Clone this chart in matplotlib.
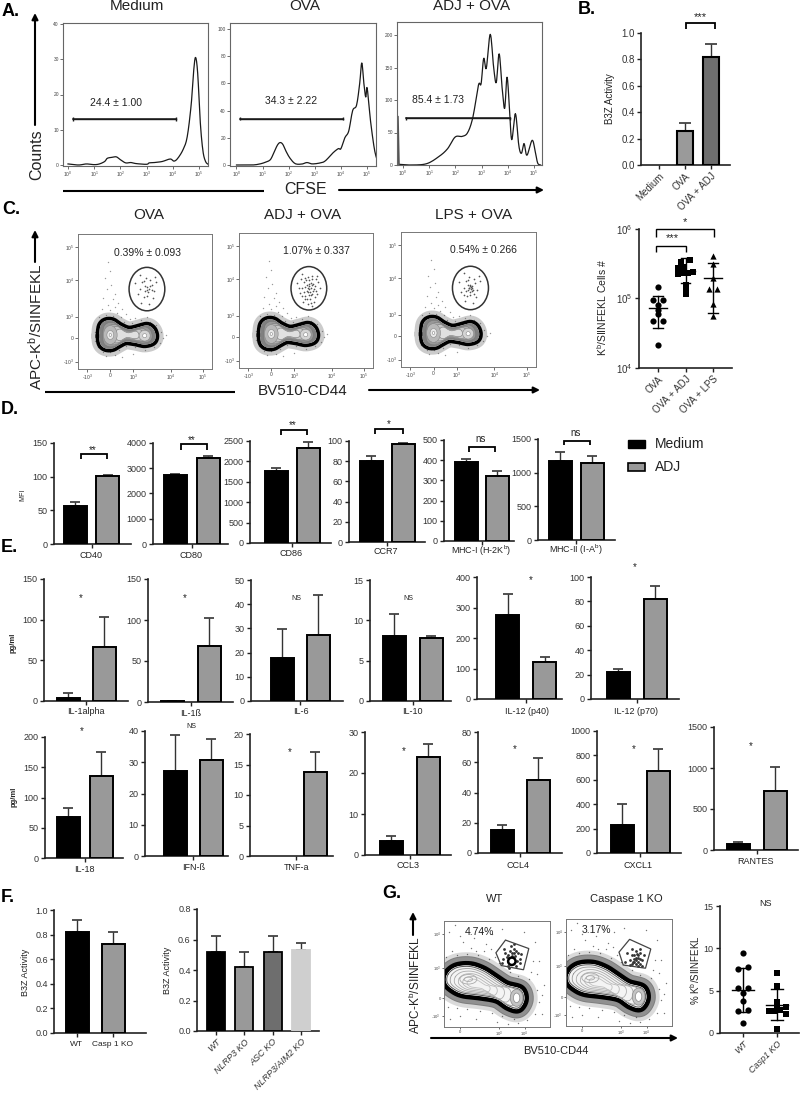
import numpy as np
import matplotlib
matplotlib.use('Agg')
import matplotlib.pyplot as plt
from matplotlib.patches import Ellipse, Polygon, Rectangle

plt.rcParams['font.family'] = ['Liberation Sans', 'DejaVu Sans']
plt.rcParams['mathtext.default'] = 'regular'
W, H = 800, 1094
INK = '#222222'

# ---------- DATA ----------
# Panel A histograms: log10(CFSE) and counts
A_medium_x = [0,0.4,0.7,1,1.2,1.4,1.5,1.7,1.85,2.0,2.2,2.4,2.6,3,3.1,3.3,3.6,3.9,4.05,4.2,4.4,4.55,4.7,4.8,4.87,4.95,5.05,5.15,5.25,5.35]
A_medium_y = [0.3,0,0.3,0.1,0.3,1,1.9,2.2,2.3,1.5,0.6,0.7,0.4,0.2,0.6,0.7,1.0,1.7,1.1,2,4.5,8,17,27,30.5,26,12,4,1,0.2]
A_ova_x = [0,0.6,0.9,1.1,1.3,1.45,1.58,1.68,1.78,1.9,2.05,2.25,2.5,2.7,2.9,3.2,3.4,3.7,3.9,4.0,4.15,4.3,4.45,4.6,4.72,4.8,4.88,4.95,5.0,5.07,5.15,5.3,5.45,5.55]
A_ova_y = [0,0,0.8,2,4,10,15,16.5,15,10,5,1,0.7,1.8,0.8,1.5,3,9,12,12,20,25,40,44,60,75,60,50,57,45,30,10,1,0]
A_adj_x = [-0.14,0.3,0.9,1.37,1.7,1.99,2.26,2.47,2.67,2.88,2.98,3.08,3.18,3.33,3.46,3.56,3.67,3.78,3.88,3.97,4.06,4.15,4.29,4.42,4.52,4.62,4.73,4.93,5.05,5.14,5.25]
A_adj_y = [1,0,2,13,25,43,44,50,74,123,125,164,149,201,150,127,171,120,87,135,90,39,79,30,18,33,15,38,20,3,0]
A_adj_spike_x = [-0.18,-0.18,-0.14]
A_adj_spike_y = [0,75,1]
A_titles = ['Medium', 'OVA', 'ADJ + OVA']
A_notes = ['24.4 ± 1.00', '34.3 ± 2.22', '85.4 ± 1.73']
A_gates = [(0.18, 4.12, 13), (0.14, 4.08, 34), (0.13, 4.07, 72)]

# Panel B
B_cats = ['Medium', 'OVA', 'OVA + ADJ']
B_vals = [0, 0.26, 0.82]
B_errs = [0, 0.055, 0.10]

# Cell numbers
K_cats = ['OVA', 'OVA + ADJ', 'OVA + LPS']
K_ova = [1.44e5,0.957e5,0.957e5,0.80e5,0.68e5,0.594e5,0.476e5,0.476e5,0.212e5]
K_adj = [3.3e5,3.57e5,2.77e5,2.86e5,2.24e5,2.29e5,2.34e5,2.42e5,1.56e5,1.35e5,1.18e5]
K_lps = [4.07e5,3.13e5,2.0e5,1.39e5,1.39e5,0.83e5,0.556e5]
K_stats = [(0.725e5,1.08e5,0.373e5),(2.5e5,3.77e5,1.68e5),(1.94e5,3.2e5,0.62e5)]

# Panel C
C_titles = ['OVA', 'ADJ + OVA', 'LPS + OVA']
C_notes = ['0.39% ± 0.093', '1.07% ± 0.337', '0.54% ± 0.266']
C_outline = [(-0.45,0.1),(-0.4,0.55),(-0.2,0.75),(0.1,0.75),(0.4,0.55),(0.8,0.38),(1.2,0.45),(1.6,0.55),(1.85,0.4),(1.95,0.1),(1.85,-0.15),(1.5,-0.25),(1.1,-0.17),(0.7,-0.12),(0.4,-0.25),(0.1,-0.42),(-0.2,-0.42),(-0.4,-0.25)]
C_gate_centers = [(1.6,2.2),(1.64,2.19),(1.6,2.16)]
C_gate_ova = [(1.6,2.3),(1.7,2.2),(1.5,2.1),(1.8,2.4),(1.4,2.5),(1.3,2.2),(1.9,2.1),(1.6,1.9),(1.75,2.6),(1.45,1.85),(1.2,2.0),(2.0,2.5),(1.55,2.7),(1.85,1.8),(1.35,1.6),(1.65,2.05),(1.72,2.35),(1.5,2.35),(1.62,2.15),(1.1,2.45),(1.95,2.75),(1.3,2.85),(1.7,1.55),(1.48,2.55),(1.82,2.18)]
C_gate_adj = [(1.6,2.3),(1.7,2.2),(1.5,2.1),(1.8,2.4),(1.4,2.5),(1.3,2.2),(1.9,2.1),(1.6,1.9),(1.75,2.6),(1.45,1.85),(1.2,2.0),(2.0,2.5),(1.55,2.7),(1.85,1.8),(1.35,1.6),(1.65,2.05),(1.72,2.35),(1.5,2.35),(1.62,2.15),(1.1,2.45),(1.95,2.75),(1.3,2.85),(1.7,1.55),(1.48,2.55),(1.82,2.18),(1.68,2.45),(1.58,2.02),(1.78,2.08),(1.42,2.28),(1.88,2.32),(1.28,1.85),(1.52,1.72),(1.95,1.95),(1.65,1.72),(1.82,1.58),(1.38,2.05),(1.75,2.75),(1.6,2.58),(1.45,2.68),(1.55,1.5),(1.72,1.4),(1.9,2.6),(1.25,2.6),(1.68,1.88),(1.55,2.22),(1.75,1.95),(1.42,1.72),(2.1,2.2),(1.15,2.2),(1.62,2.4)]
C_gate_lps = [(1.6,2.3),(1.65,2.2),(1.5,2.1),(1.8,2.4),(1.4,2.5),(1.3,2.2),(1.9,2.1),(1.6,1.9),(1.75,2.6),(1.45,1.85),(1.2,2.0),(2.0,2.5),(1.55,2.7),(1.85,1.8),(1.35,1.6),(1.65,2.05),(1.58,2.35),(1.5,2.35),(1.62,2.15),(1.1,2.45),(1.95,2.75),(1.3,2.85),(1.7,1.55),(1.48,2.55),(1.55,2.18),(1.68,2.28),(1.58,2.02),(1.62,2.25),(1.52,2.22),(1.7,2.1),(1.42,2.08),(1.75,1.95),(1.3,1.9)]
C_plume = [(-0.1,3.4),(0.0,3.0),(-0.25,2.7),(0.05,2.4),(-0.15,2.2),(0.2,2.0),(-0.3,1.8),(0.1,1.75),(0.35,1.6),(-0.1,1.5),(0.2,1.4),(0.5,1.3),(-0.35,1.3),(0.0,1.25),(0.3,1.15),(0.7,1.1),(-0.2,1.05),(0.1,1.0),(0.45,0.95),(0.85,0.85),(1.1,0.9),(1.35,0.8),(1.6,0.95),(-0.5,0.95),(-0.4,0.85),(0.25,0.85),(0.6,0.75),(0.95,0.7),(1.3,0.7),(1.75,0.75),(2.0,0.6),(2.2,0.3),(2.3,0.0),(2.15,-0.2),(1.9,-0.4),(1.5,-0.5),(1.1,-0.4),(0.7,-0.35),(0.4,-0.5),(0.0,-0.6),(-0.3,-0.6),(-0.55,-0.4),(-0.65,-0.1),(-0.65,0.3),(-0.55,0.7),(-0.2,-0.8),(0.2,-0.75),(1.0,-0.7),(0.5,-0.85),(2.45,0.15)]

# Panel D
D_labels = ['CD40','CD80','CD86','CCR7','MHC-I (H-2K$^{b}$)','MHC-II (I-A$^{b}$)']
D_medium = [57,2740,1760,80,392,1180]
D_medium_err = [6,30,90,5.5,15,120]
D_adj = [101,3390,2340,97,320,1150]
D_adj_err = [2,100,130,1,25,100]
D_ticks = [[0,50,100,150],[0,1000,2000,3000,4000],[0,500,1000,1500,2000,2500],[0,20,40,60,80,100],[0,100,200,300,400,500],[0,500,1000,1500]]
D_sig = ['**','**','**','*','ns','ns']

# Panel E
E1_labels = ['IL-1alpha','IL-1ß','IL-6','IL-10','IL-12 (p40)','IL-12 (p70)']
E1_medium = [4,1,17.7,8.1,275,22]
E1_medium_err = [6,0.5,12,2.7,68,3]
E1_adj = [67,68,27.2,7.8,120,82]
E1_adj_err = [36,34,16.5,0.2,18,11]
E1_ticks = [[0,50,100,150],[0,50,100,150],[0,10,20,30,40,50],[0,5,10,15],[0,100,200,300,400],[0,20,40,60,80,100]]
E1_sig = ['*','*','NS','NS','*','*']
E2_labels = ['IL-18','IFN-ß','TNF-a','CCL3','CCL4','CXCL1','RANTES']
E2_medium = [68,27.2,0,3.3,15,233,78]
E2_medium_err = [15,11.4,0,1.4,3.5,165,18]
E2_adj = [136,30.8,13.7,24,48,675,725]
E2_adj_err = [39,6.7,3.4,3,15,175,285]
E2_ticks = [[0,50,100,150,200],[0,10,20,30,40],[0,5,10,15,20],[0,10,20,30],[0,20,40,60,80],[0,200,400,600,800,1000],[0,500,1000,1500]]
E2_sig = ['*','NS','*','*','*','*','*']

# Panel F
F1_labels = ['WT','Casp 1 KO']
F1_vals = [0.82,0.72]
F1_errs = [0.10,0.10]
F2_labels = ['WT','NLRP3 KO','ASC KO','NLRP3/AIM2 KO']
F2_vals = [0.52,0.42,0.52,0.53]
F2_errs = [0.10,0.10,0.10,0.045]

# Panel G
G_titles = ['WT','Caspase 1 KO']
G_notes = ['4.74%','3.17%']
G_outline = [(4,50),(12,56),(25,57),(37,53),(48,46),(59,39),(72,35),(75,26),(70,18),(61,20),(50,27),(34,30),(18,32),(9,36),(3,42)]
G_gate_wt = [(49,70),(58,82),(80,74),(75,54),(54,58)]
G_gate_ko = [(50,69),(60,81),(80,72),(75,54),(54,57)]
G_fuzz = [(2,66),(12,68),(22,69),(32,68),(42,64),(52,60),(62,52),(70,48),(80,45),(88,35),(90,24),(86,12),(78,7),(66,8),(55,10),(45,13),(34,15),(22,17),(12,18),(4,19),(8,72),(25,75),(38,72),(48,66),(88,50),(92,30),(70,4),(50,5),(30,8),(15,10),(40,78),(28,84),(15,86),(5,90),(35,90),(90,62),(86,80),(94,40),(45,88),(6,8),(60,3),(92,12),(10,96),(55,92),(75,90),(18,80),(30,72),(44,74),(82,52),(84,62)]
G_gate_dots_wt = [(58,70),(62,72),(66,74),(70,70),(72,64),(68,58),(60,58),(56,64),(64,67),(67,67),(60,62),(57,74),(66,70),(73,69),(63,76),(69,62),(61,56),(55,60),(64,70),(68,72),(60,68),(72,60),(66,78),(59,66)]
G_gate_dots_ko = [(62,66),(66,64),(70,68),(64,60),(68,60),(72,62),(60,62),(66,70),(74,66),(62,72),(70,72),(56,60),(68,56),(62,58),(66,58),(70,58),(64,66),(68,66),(58,68),(72,56),(66,62),(68,64),(64,63),(63,60),(67,67),(60,57),(70,63)]

G_wt = [9.5,7.6,7.8,5.3,5.3,4.7,3.8,2.6,2.7,1.2]
G_ko = [7.1,5.6,3.7,3.1,3.0,2.6,2.6,2.7,2.2,0.5]
G_stats = [(5.1,7.7,2.5),(3.3,5.2,1.5)]
G_cats = ['WT','Casp1 KO']

# ---------- LAYOUT ----------
A_boxes = [(63,23,208,166,68,199,165,24,40),(230,23,376,166,236.5,367,165,29,100),(397,22,542,165,403,534,165,35,200)]
A_title_x = [137,305,472]
A_note_xy = [(116,103),(291,101),(438,100)]
C_boxes = [(78,234,212,369),(239,233,373,368),(401,232,536,367)]
C_title_x = [149,303,474]
C_note_xy = [(147,253),(316,251),(483,250)]
D_boxes = [(54,443,131,544,75.4,107.7),(153,443,228,544,175,208),(250,441,331,543,276,308),(349,441,425,542,371,403),(444,440,514,541,466,497),(538,439,615,540,560,592)]
D_label_xy = [(91,555),(191,555),(291,553),(386,552),(481,551),(576,550)]
D_brackets = [(80.5,106.7,454,459,93,450),(180.5,206.7,444,450,192,440),(281,306.7,430,435,293,425),(375.4,402.6,429,434,389,424),(468.7,495.4,447,452,481,439),(564,590,441,445,575.4,433)]
E1_boxes = [(44,579,128,701,68,104),(148,579,233,702,172,209),(251,580,343,701,282,318),(370,580,451,701,394,431),(477,577,562,699,508,545),(591,577,679,699,618,655)]
E1_label_xy = [(86,712),(191,713),(301,712),(412,712),(527,711),(636,711)]
E1_sig_xy = [(80.5,598),(184.6,598),(296.4,598),(408.7,598),(530.8,580),(635,567)]
E2_boxes = [(45,737,123,858,68,101),(145,731,228,856,175,211),(250,734,333,856,277,315),(365,732,451,855,391,428),(478,732,562,853,502,538),(597,731,681,853,622,658),(714,727,798,850,738,775)]
E2_label_xy = [(84,869),(194,868),(296,868),(408,865),(518,865),(638,865),(756,862)]
E2_sig_xy = [(82,731),(191,726),(290,752),(403.6,751),(515,749),(634,749),(751,746)]
C_ticks_x = [-1, 0, 1, 2.64, 4.05]
C_ticks_y = [-1.04, 0, 0.97, 2.61, 4.06]
C_tick_text = ['-10$^{3}$', '0', '10$^{3}$', '10$^{4}$', '10$^{5}$']

fig = plt.figure(figsize=(W/100, H/100), dpi=100, facecolor='white')

def box_ax(l, t, r, b):
    return fig.add_axes([l/W, 1-b/H, (r-l)/W, (b-t)/H])

ov = fig.add_axes([0, 0, 1, 1], zorder=20)
ov.set_xlim(0, W); ov.set_ylim(H, 0); ov.axis('off'); ov.patch.set_alpha(0)

def T(x, y, s, size=7, **k):
    k.setdefault('ha', 'center'); k.setdefault('va', 'center'); k.setdefault('color', INK)
    ov.text(x, y, s, fontsize=size, **k)

def arrow(x0, y0, x1, y1):
    ov.annotate('', xy=(x1, y1), xytext=(x0, y0),
                arrowprops=dict(arrowstyle='-|>', lw=1.5, color='k', mutation_scale=9, shrinkA=0, shrinkB=0))

def line(xs, ys, lw=1.2, color='k'):
    ov.plot(xs, ys, color=color, lw=lw, solid_capstyle='butt', solid_joinstyle='miter')

def bracket(x0, x1, ytop, ybot, lw=1.3):
    line([x0, x0, x1, x1], [ybot, ytop, ytop, ybot], lw)

def closed_spline(pts, n=12):
    p = np.array(pts, float)
    out = []
    m = len(p)
    for i in range(m):
        a, b, c, d = p[(i-1) % m], p[i], p[(i+1) % m], p[(i+2) % m]
        for t in np.linspace(0, 1, n, endpoint=False):
            out.append(0.5*((2*b)+(-a+c)*t+(2*a-5*b+4*c-d)*t*t+(-a+3*b-3*c+d)*t**3))
    out.append(out[0])
    return np.array(out)

def open_spline(xs, ys, n=8):
    p = np.column_stack([xs, ys]).astype(float)
    p = np.vstack([p[0], p, p[-1]])
    out = []
    for i in range(1, len(p)-2):
        a, b, c, d = p[i-1], p[i], p[i+1], p[i+2]
        for t in np.linspace(0, 1, n, endpoint=False):
            out.append(0.5*((2*b)+(-a+c)*t+(2*a-5*b+4*c-d)*t*t+(-a+3*b-3*c+d)*t**3))
    out.append(p[-1])
    out = np.array(out)
    out[:, 1] = np.maximum(out[:, 1], 0)
    return out

def offset_curve(curve, d):
    """Shift a closed curve outward by d, along its normal."""
    c = curve[:-1]
    tan = np.roll(c, -1, axis=0) - np.roll(c, 1, axis=0)
    tan /= np.maximum(np.hypot(*tan.T), 1e-9)[:, None]
    nrm = np.column_stack([tan[:, 1], -tan[:, 0]])
    mid = c.mean(axis=0)
    sign = np.sign(((c-mid)*nrm).sum(axis=1).sum()) or 1
    o = c + sign*d*nrm
    return np.vstack([o, o[0]])

def style_prism(ax, lw=1.2, size=6.5):
    for s in ('top', 'right'):
        ax.spines[s].set_visible(False)
    for s in ('left', 'bottom'):
        ax.spines[s].set_linewidth(lw); ax.spines[s].set_color(INK)
    ax.tick_params(axis='both', length=3, width=1, color=INK, labelsize=size, labelcolor='#333333', pad=1.5)

def bar_panel(box, vals, errs, ticks, colors, width_px=23, size=6.5, edges=None):
    l, t, r, b = box[:4]
    pos = box[4:]
    unit = pos[1] - pos[0]
    ax = box_ax(l, t, r, b)
    ax.set_xlim((l-pos[0])/unit, (r-pos[0])/unit)
    ax.set_ylim(0, ticks[-1])
    x = np.arange(len(vals))
    for i in x:
        ec = 'black' if edges is None else edges[i]
        if vals[i] > 0:
            ax.bar(i, vals[i], width_px/unit, color=colors[i], edgecolor=ec, linewidth=1.4, zorder=3)
            ax.errorbar(i, vals[i], yerr=[[0], [errs[i]]], color='#333333', capsize=3.5,
                        elinewidth=1.0, capthick=1.2, zorder=2, clip_on=False)
    ax.set_yticks(ticks)
    ax.set_yticklabels([str(v) for v in ticks])
    style_prism(ax, size=size)
    return ax

# ---- Panel letters
for x, y, s in [(2, 12, 'A.'), (578, 10, 'B.'), (2, 210, 'C.'), (1, 410, 'D.'), (1, 547, 'E.'), (1, 897, 'F.'), (382, 893, 'G.')]:
    T(x, y, s, 13, ha='left', fontweight='bold', color='k')

# ---- Panel A
A_x = [A_medium_x, A_ova_x, A_adj_x]
A_y = [A_medium_y, A_ova_y, A_adj_y]
for i, bx in enumerate(A_boxes):
    l, t, r, b, x0, x5, y0, ym, ymax = bx
    ax = box_ax(l, t, r, b)
    ux = (x5-x0)/5
    uy = (y0-ym)/ymax
    ax.set_xlim((l-x0)/ux, (r-x0)/ux)
    ax.set_ylim((y0-b)/uy, (y0-t)/uy)
    curve = open_spline(A_x[i], A_y[i])
    ax.plot(curve[:, 0], curve[:, 1], color='#1a1a1a', lw=0.9, solid_joinstyle='round')
    if i == 2:
        ax.plot(A_adj_spike_x, A_adj_spike_y, color='#555555', lw=0.7)
    g0, g1, gy = A_gates[i]
    ax.errorbar([g0, g1], [gy, gy], yerr=ymax*0.012, color='#1a1a1a', lw=1.0, capsize=0, elinewidth=1)
    ax.plot([g0, g1], [gy, gy], color='#1a1a1a', lw=1.1)
    ax.set_xticks(range(6))
    ax.set_xticklabels(['10$^{%d}$' % n for n in range(6)])
    yt = {40: [0,10,20,30,40], 100: [0,20,40,60,80,100], 200: [0,50,100,150,200]}[ymax]
    ax.set_yticks(yt)
    ax.tick_params(labelsize=3.5, length=2, width=0.5, pad=1, color='#333333', labelcolor='#444444')
    for s in ax.spines.values():
        s.set_linewidth(0.8); s.set_color('#666666')
    T(A_title_x[i], 6, A_titles[i], 11)
    T(A_note_xy[i][0], A_note_xy[i][1], A_notes[i], 7.5)
T(37, 155, 'Counts', 11.5, rotation=90)
arrow(35, 125, 35, 13)
T(306, 190, 'CFSE', 11.5)
line([63, 264], [191, 191], 1.5)
arrow(339, 190, 544, 190)

# ---- Panel B
ax = box_ax(641, 33, 730, 165)
ax.set_xlim(-0.69, 2.73); ax.set_ylim(0, 1)
B_colors = ['white', '#9a9a9a', '#6e6e6e']
for i in range(3):
    if B_vals[i] > 0:
        ax.bar(i, B_vals[i], 0.62, color=B_colors[i], edgecolor='black', linewidth=1.5, zorder=3)
        ax.errorbar(i, B_vals[i], yerr=[[0], [B_errs[i]]], color='#333333', capsize=4.5, elinewidth=1, capthick=1.2, zorder=2)
ax.set_xticks(range(3)); ax.set_xticklabels(B_cats, rotation=45, ha='right', rotation_mode='anchor')
ax.set_yticks([0, .2, .4, .6, .8, 1]); ax.set_yticklabels(['0.0', '0.2', '0.4', '0.6', '0.8', '1.0'])
style_prism(ax, size=7)
T(610, 99, 'B3Z Activity', 7, rotation=90)
bracket(686, 715, 23, 29)
T(700, 17, '***', 8)

# ---- Cell-number scatter
ax = box_ax(639, 229, 732, 368)
ax.set_yscale('log'); ax.set_ylim(1e4, 1e6)
ax.set_xlim((639-658)/27.5, (732-658)/27.5)
K_ova_dx = [0,-.17,.17,0,0,0,-.17,.17,0]
K_adj_dx = [-.16,.17,-.28,-.1,-.28,-.12,.08,.26,0,0,0]
K_lps_dx = [0,0,0,-.16,.16,0,0]
K_sets = [K_ova, K_adj, K_lps]
K_dx = [K_ova_dx, K_adj_dx, K_lps_dx]
for i, mk in enumerate(['o', 's', '^']):
    ax.scatter(np.array(K_dx[i])+i, K_sets[i], marker=mk, s=20, color='black', zorder=3, linewidths=0)
    m, hi, lo = K_stats[i]
    ax.plot([i-.34, i+.34], [m, m], color='k', lw=1)
    ax.plot([i, i], [lo, hi], color='k', lw=1)
    for v in (lo, hi):
        ax.plot([i-.18, i+.18], [v, v], color='k', lw=1)
ax.set_xticks(range(3)); ax.set_xticklabels(K_cats, rotation=45, ha='right', rotation_mode='anchor')
ax.set_yticks([1e4, 1e5, 1e6]); ax.set_yticklabels(['10$^{4}$', '10$^{5}$', '10$^{6}$'])
ax.minorticks_off()
style_prism(ax, size=7)
T(602, 308, 'K$^{b}$/SIINFEKL Cells #', 7.5, rotation=90)
bracket(656, 686, 246, 252, 1.0)
T(672, 238, '***', 8)
bracket(656, 714, 229, 237, 1.0)
T(685, 222, '*', 8)

# ---- Panel C
C_gates = [C_gate_ova, C_gate_adj, C_gate_lps]
for i, (l, t, r, b) in enumerate(C_boxes):
    ax = box_ax(l, t, r, b)
    ax.set_xlim(-1.41, 4.44); ax.set_ylim(-1.37, 4.66)
    P = np.array(C_plume)
    ax.scatter(P[:, 0], P[:, 1], s=1.0, color='#9a9a9a', linewidths=0)
    G = np.array(C_gates[i])
    cx, cy = C_gate_centers[i]
    ax.scatter(G[:, 0]+cx-1.6, G[:, 1]+cy-2.2, s=1.5, color='#555555', linewidths=0)
    ax.add_patch(Ellipse((cx, cy), 1.56, 1.94, fill=False, ec='#333333', lw=1.1))
    base = closed_spline(C_outline)
    ctr = np.array([0.75, 0.15])
    ax.plot(*offset_curve(base, 0.27).T, color='#333333', lw=3.5, alpha=0.25)
    ax.plot(*offset_curve(base, 0.11).T, color='k', lw=2.6)
    ax.fill(*base.T, color='#808080', zorder=2)
    for s, c in [(0.9, '#989898'), (0.75, '#b0b0b0'), (0.6, '#c8c8c8'), (0.42, '#e0e0e0')]:
        ax.fill(*(ctr+(base-ctr)*s).T, color=c, ec='#777777', lw=0.4, zorder=2)
    for (lx, ly), rx, ry, fc in [((0.0, 0.15), 0.3, 0.42, '#b8b8b8'), ((0.0, 0.15), 0.15, 0.2, '#e8e8e8'), ((0.0, 0.15), 0.05, 0.07, 'white'),
                                 ((1.5, 0.12), 0.24, 0.24, '#d4d4d4'), ((1.5, 0.12), 0.09, 0.09, 'white')]:
        ax.add_patch(Ellipse((lx, ly), 2*rx, 2*ry, fc=fc, ec='#888888', lw=0.4, zorder=2))
    ax.set_xticks(C_ticks_x); ax.set_xticklabels(C_tick_text)
    ax.set_yticks(C_ticks_y); ax.set_yticklabels(C_tick_text)
    ax.tick_params(labelsize=3.5, length=2, width=0.5, pad=1, color='#333333', labelcolor='#444444')
    for s in ax.spines.values():
        s.set_linewidth(0.7); s.set_color('#777777')
    T(C_title_x[i], 215, C_titles[i], 11)
    T(C_note_xy[i][0], C_note_xy[i][1], C_notes[i], 7.5)
T(36, 327, 'APC-K$^{b}$/SIINFEKL', 11, rotation=90)
arrow(35, 262, 35, 230)
T(303, 391, 'BV510-CD44', 11)
line([45, 235], [392, 392], 1.5)
arrow(369, 390, 540, 390)

# ---- Panels D / E helper loop
black_gray = ['black', '#999999']
def group(boxes, meds, merrs, adjs, aerrs, ticks, labels, lab_xy, width=23):
    for i, bx in enumerate(boxes):
        ax = bar_panel(bx, [meds[i], adjs[i]], [merrs[i], aerrs[i]], ticks[i], black_gray, width_px=width)
        ax.set_xticks([0.5]); ax.set_xticklabels([''])
        T(lab_xy[i][0], lab_xy[i][1], labels[i], 6.5)

group(D_boxes, D_medium, D_medium_err, D_adj, D_adj_err, D_ticks, D_labels, D_label_xy)
for i, (x0, x1, yt, yb, sx, sy) in enumerate(D_brackets):
    bracket(x0, x1, yt, yb)
    T(sx, sy, D_sig[i], 7)
T(23, 495, 'MFI', 5, rotation=90)
ov.add_patch(Rectangle((628, 440), 17, 8, fc='black', ec='black', lw=1))
ov.add_patch(Rectangle((628, 463), 17, 8, fc='#999999', ec='black', lw=1.2))
T(655, 444, 'Medium', 10, ha='left')
T(655, 467, 'ADJ', 10, ha='left')

group(E1_boxes, E1_medium, E1_medium_err, E1_adj, E1_adj_err, E1_ticks, E1_labels, E1_label_xy)
for (x, y), s in zip(E1_sig_xy, E1_sig):
    T(x, y, s, 5 if s == 'NS' else 7)
T(13, 643, 'pg/ml', 5.5, rotation=90, fontweight='bold')
group(E2_boxes, E2_medium, E2_medium_err, E2_adj, E2_adj_err, E2_ticks, E2_labels, E2_label_xy)
for (x, y), s in zip(E2_sig_xy, E2_sig):
    T(x, y, s, 5 if s == 'NS' else 7)
T(14, 797, 'pg/ml', 5.5, rotation=90, fontweight='bold')

# ---- Panel F
ax = bar_panel((54, 910, 146, 1033, 77, 113), F1_vals, F1_errs, [0, .2, .4, .6, .8, 1.0], black_gray)
ax.set_yticklabels(['0.0', '0.2', '0.4', '0.6', '0.8', '1.0'])
ax.set_xticks([0, 1]); ax.set_xticklabels(['', ''])
T(76, 1044, F1_labels[0], 6)
T(112, 1044, F1_labels[1], 6)
T(25, 972, 'B3Z Activity', 6.5, rotation=90)

ax = box_ax(197, 909, 319, 1031)
ax.set_xlim((197-216)/28.3, (319-216)/28.3); ax.set_ylim(0, 0.8)
F2_colors = ['black', '#999999', '#6e6e6e', '#cfcfcf']
F2_edges = ['black', 'black', 'black', '#cfcfcf']
for i in range(4):
    ax.bar(i, F2_vals[i], 0.64, color=F2_colors[i], edgecolor=F2_edges[i], linewidth=1.3, zorder=3)
    ax.errorbar(i, F2_vals[i], yerr=[[0], [F2_errs[i]]], color='#333333', capsize=3.5, elinewidth=1, capthick=1.2, zorder=2)
ax.set_xticks(range(4)); ax.set_xticklabels(F2_labels, rotation=45, ha='right', rotation_mode='anchor', style='italic')
ax.set_yticks([0, .2, .4, .6, .8]); ax.set_yticklabels(['0.0', '0.2', '0.4', '0.6', '0.8'])
style_prism(ax, size=6.5)
T(168, 970, 'B3Z Activity', 6.5, rotation=90)

# ---- Panel G flow
G_boxes = [(444, 921, 550, 1027), (566, 919, 672, 1026)]
G_gates = [G_gate_wt, G_gate_ko]
G_dots = [G_gate_dots_wt, G_gate_dots_ko]
G_title_x = [495, 626]
G_note_xy = [(479, 932), (596, 930)]
for i, (l, t, r, b) in enumerate(G_boxes):
    ax = box_ax(l, t, r, b)
    ax.set_xlim(0, 100); ax.set_ylim(0, 100)
    Fz = np.array(G_fuzz)
    ax.scatter(Fz[:, 0], Fz[:, 1], s=1.0, color='#777777', linewidths=0)
    base = closed_spline(G_outline)
    ctr = np.array([30, 40])
    ax.plot(*offset_curve(base, 11).T, color='#333333', lw=3.5, alpha=0.18)
    ax.plot(*offset_curve(base, 7).T, color='#222222', lw=4, alpha=0.5)
    ax.plot(*offset_curve(base, 3).T, color='k', lw=3.2)
    ax.fill(*base.T, color='#f4f4f4', zorder=2)
    ax.plot(*base.T, color='#555555', lw=0.7, zorder=2)
    for s, c, w in [(0.88, '#9a9a9a', 0.6), (0.74, '#aaaaaa', 0.6), (0.6, '#b0b0b0', 0.6), (0.45, '#b8b8b8', 0.6), (0.3, '#c0c0c0', 0.6)]:
        ax.plot(*(ctr+(base-ctr)*s).T, color=c, lw=w, zorder=2)
    for cx_, cy_, rx, ry in [(23, 45, 8, 4.5), (23, 45, 4, 2)]:
        ax.add_patch(Ellipse((cx_, cy_), 2*rx, 2*ry, fc='none', ec='#aaaaaa', lw=0.6, zorder=2))
    for cx_, cy_, rx, ry, fc in [(68.5, 27.5, 6, 8, '#c4c4c4'), (68.5, 27.5, 3, 4.5, 'white')]:
        ax.add_patch(Ellipse((cx_, cy_), 2*rx, 2*ry, fc=fc, ec='#888888', lw=0.5, zorder=2))
    D = np.array(G_dots[i])
    ax.scatter(D[:, 0], D[:, 1], s=4, color='#333333', linewidths=0)
    if i == 0:
        ax.add_patch(Ellipse((64, 62), 7, 7, fc='white', ec='k', lw=1.8))
    ax.add_patch(Polygon(G_gates[i], closed=True, fill=False, ec='#444444', lw=0.9, zorder=3))
    ax.set_xticks([15, 52, 76]); ax.set_xticklabels(['0', '10$^{3}$', '10$^{4}$'])
    ax.set_yticks([10, 27, 56, 88]); ax.set_yticklabels(['-10$^{3}$', '0', '10$^{3}$', '10$^{4}$'])
    ax.tick_params(labelsize=3, length=1.5, width=0.5, pad=0.8, direction='out', color='#333333', labelcolor='#444444')
    for s in ax.spines.values():
        s.set_linewidth(0.7); s.set_color('#777777')
    T(G_title_x[i], 899, G_titles[i], 8)
    T(G_note_xy[i][0], G_note_xy[i][1], G_notes[i], 7.5)
T(415, 985, 'APC-K$^{b}$/SIINFEKL', 8.5, rotation=90)
arrow(413, 935, 413, 912)
arrow(431, 1038, 678, 1038)
T(556, 1051, 'BV510-CD44', 8)

# ---- Panel G scatter
ax = box_ax(720, 906, 799, 1033)
ax.set_xlim((720-743)/34, (799-743)/34); ax.set_ylim(0, 15)
G_wt_dx = [0,-.15,.15,-.15,.15,0,0,-.15,.15,0]
G_ko_dx = [0,0,0,.25,.0,-.25,-.1,.1,.25,0]
for i, (vals, dx, mk) in enumerate([(G_wt, G_wt_dx, 'o'), (G_ko, G_ko_dx, 's')]):
    ax.scatter(np.array(dx)+i, vals, marker=mk, s=20, color='black', zorder=3, linewidths=0, clip_on=False)
    m, hi, lo = G_stats[i]
    ax.plot([i-.32, i+.32], [m, m], color='k', lw=1)
    ax.plot([i, i], [lo, hi], color='k', lw=1)
    for v in (lo, hi):
        ax.plot([i-.18, i+.18], [v, v], color='k', lw=1)
ax.set_xticks([0, 1]); ax.set_xticklabels(G_cats, rotation=45, ha='right', rotation_mode='anchor', style='italic')
ax.set_yticks([0, 5, 10, 15])
style_prism(ax, size=6.5)
T(766, 904, 'NS', 6.5)
T(695, 970, '% K$^{b}$/SIINFEKL', 7, rotation=90)

fig.savefig('out.png', dpi=100)
